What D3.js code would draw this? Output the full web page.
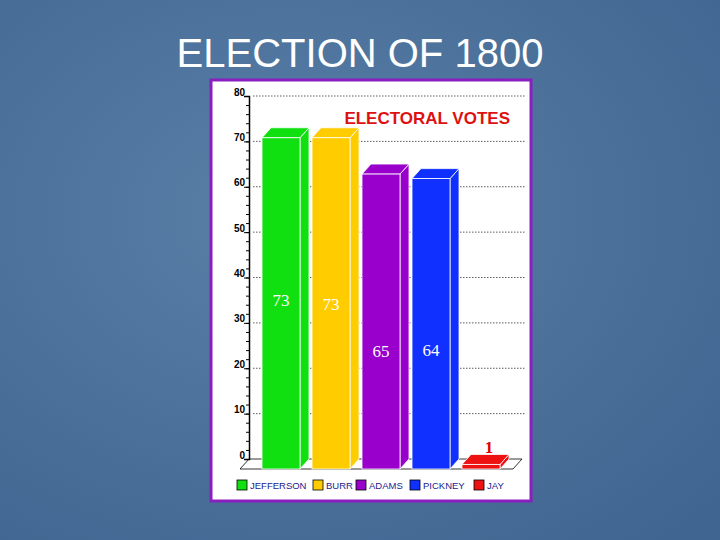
<!DOCTYPE html><html><head><script src="https://cdn.jsdelivr.net/npm/d3@7"></script>
<style>body{margin:0;}</style></head><body><svg id="c" width="720" height="540"></svg>
<script>
const categories=["JEFFERSON","BURR","ADAMS","PICKNEY","JAY"];
const votes=[73,73,65,64,1];
const colors=["#10e010","#ffcc00","#9900cc","#1030ff","#ee1111"];
const labelColors=["#fff","#fff","#fff","#fff","#dd0000"];
const yTicks=[0,10,20,30,40,50,60,70,80];
const svg=d3.select("#c");
const defs=svg.append("defs");
const g0=defs.append("radialGradient").attr("id","bg").attr("cx","40%").attr("cy","40%").attr("r","80%");
g0.append("stop").attr("offset","0%").attr("stop-color","#5a80a8");
g0.append("stop").attr("offset","100%").attr("stop-color","#3f6590");
svg.append("rect").attr("width",720).attr("height",540).attr("fill","url(#bg)");
svg.append("text").attr("x",360).attr("y",67).attr("text-anchor","middle").attr("fill","#fff")
 .attr("font-family","Liberation Sans, Arial").attr("font-size",40).text("ELECTION OF 1800");
svg.append("rect").attr("x",211).attr("y",80).attr("width",320).attr("height",421).attr("fill","#fff").attr("stroke","#8a1fc0").attr("stroke-width",3);
const y=d3.scaleLinear().domain([0,80]).range([459,96]);
const x=d3.scaleBand().domain(categories).range([262,500]).paddingInner(0.24).paddingOuter(0);
const dx=9,dy=10;
svg.append("g").selectAll("line").data(yTicks.slice(1)).join("line")
 .attr("x1",253).attr("x2",525).attr("y1",d=>y(d)).attr("y2",d=>y(d))
 .attr("stroke","#333").attr("stroke-dasharray","1.5,1.5").attr("stroke-width",0.8);
svg.append("path").attr("d",`M${249-dx},${y(0)+dy}L${249},${y(0)}L${522},${y(0)}L${513},${y(0)+dy}Z`).attr("fill","#fff").attr("stroke","#000").attr("stroke-width",0.8);
const ax=svg.append("g").attr("transform","translate(249,0)").call(d3.axisLeft(y).tickValues(yTicks).tickSize(5).tickFormat(d3.format("d")));
ax.selectAll("text").attr("font-family","Liberation Sans, Arial").attr("font-size",10).attr("font-weight","bold").attr("fill","#000").attr("x",-4).attr("dy","-0.1em");
ax.select(".domain").attr("stroke-width",1.5);
svg.append("g").attr("transform","translate(249,0)").call(d3.axisLeft(y).ticks(40).tickSize(3).tickFormat("")).select(".domain").remove();
const bars=svg.append("g").selectAll("g").data(votes).join("g");
bars.append("path").attr("d",(d,i)=>{const x0=x(categories[i]),w=x.bandwidth();
 return `M${x0+w},${y(d)+dy}L${x0+w+dx},${y(d)}L${x0+w+dx},${y(0)}L${x0+w},${y(0)+dy}Z`;})
 .attr("fill",(d,i)=>colors[i]).attr("stroke","#fff").attr("stroke-width",0.8);
bars.append("path").attr("d",(d,i)=>{const x0=x(categories[i]),w=x.bandwidth(),t=y(d);
 return `M${x0},${t+dy}L${x0+dx},${t}L${x0+w+dx},${t}L${x0+w},${t+dy}Z`;})
 .attr("fill",(d,i)=>colors[i]).attr("stroke","#fff").attr("stroke-width",0.8);
bars.append("rect").attr("x",(d,i)=>x(categories[i])).attr("y",d=>y(d)+dy).attr("width",x.bandwidth())
 .attr("height",d=>Math.max(2,y(0)-y(d))).attr("fill",(d,i)=>colors[i]).attr("stroke","#fff").attr("stroke-width",0.8);
const lblY=[36,35,24.7,25,3.6];
bars.append("text").attr("x",(d,i)=>x(categories[i])+x.bandwidth()/2+(i==4?8:0)).attr("y",(d,i)=>y(lblY[i])+dy)
 .attr("text-anchor","middle").attr("font-family","Liberation Serif, serif").attr("font-size",17).attr("font-weight",(d,i)=>i==4?"bold":"normal")
 .attr("fill",(d,i)=>labelColors[i]).text(d=>d);
svg.append("text").attr("x",510).attr("y",124).attr("text-anchor","end").attr("fill","#dd1111")
 .attr("font-family","Liberation Sans, Arial").attr("font-size",17).attr("font-weight","bold").text("ELECTORAL VOTES");
const lx=[237,313,356,410,474];
const lg=svg.append("g").selectAll("g").data(categories).join("g").attr("transform",(d,i)=>`translate(${lx[i]},480)`);
lg.append("rect").attr("width",10).attr("height",10).attr("fill",(d,i)=>colors[i]).attr("stroke","#000").attr("stroke-width",0.8);
lg.append("text").attr("x",13).attr("y",9).attr("font-family","Liberation Sans, Arial").attr("font-size",9.5).attr("fill","#1a1a90").text(d=>d);
</script></body></html>
